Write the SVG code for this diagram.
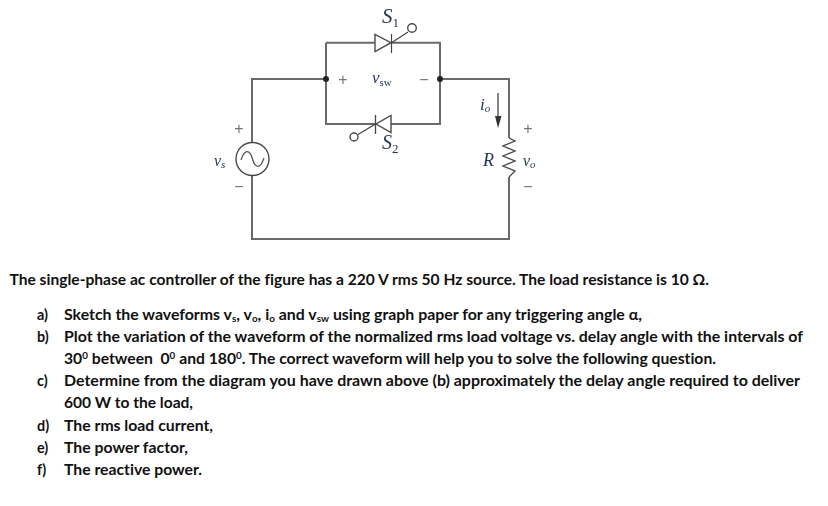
<svg xmlns="http://www.w3.org/2000/svg" width="828" height="506" viewBox="0 0 828 506">
<style>
.c{filter:url(#soft)}
.w{fill:none;stroke:#6a6a6a;stroke-width:2}
.s{fill:#fff;stroke:#4a4a4a;stroke-width:1.4}
.l{font-family:"Liberation Serif",serif;font-style:italic;fill:#26365c}
.n{font-style:normal}
.p{font-family:"Liberation Sans",sans-serif;font-size:16px;fill:#777;text-anchor:middle}
.t{font-family:Lato,"Liberation Sans",sans-serif;font-weight:700;font-size:14.4px;fill:#111;font-variant-ligatures:none;white-space:pre}
.d{fill:#222}
</style>
<defs>
<filter id="soft" x="-10%" y="-10%" width="120%" height="120%"><feGaussianBlur stdDeviation="0.35"/></filter>
</defs>
<rect width="828" height="506" fill="#fff"/>
<g id="connectors" class="c">
<path class="w" d="M326 79H252V142M252 176V239H509V177M509 138V79H440M326 42.7V124H375M391 124H440V42.7H391M375 42.7H326"/>
<path d="M498 93V118" stroke="#444" stroke-width="1.3" fill="none"/>
<path d="M495 116H501.5L498 128Z" fill="#333"/>
</g>
<g id="source" class="c">
<circle class="s" cx="252.5" cy="159" r="16.5" stroke-width="1.7"/>
<path d="M241 160C245 148 250 150 252.5 159S260 170 264 158" fill="none" stroke="#555" stroke-width="1.3"/>
<text class="p" x="239" y="134">+</text><text class="p" x="239" y="192">−</text>
<text class="l" x="214" y="166" font-size="16">v<tspan font-size="11" dy="2">s</tspan></text>
</g>
<g id="s1" class="c">
<path class="s" d="M375 34.5V51.5L391 42.7Z"/>
<path d="M391.5 34V53M391.5 42.7L408 32" stroke="#444" stroke-width="1.2" fill="none"/>
<circle class="s" cx="412" cy="28" r="4.3"/>
<text class="l" x="382" y="23" font-size="21">S<tspan class="n" font-size="13" dy="4">1</tspan></text>
</g>
<g id="s2" class="c">
<path class="s" d="M391 115.5V132.5L376 124Z"/>
<path d="M375.5 115V134M375.5 124L358 134.5" stroke="#444" stroke-width="1.3" fill="none"/>
<circle class="s" cx="354" cy="137" r="4"/>
<text class="l" x="382" y="149" font-size="20">S<tspan class="n" font-size="13" dy="4">2</tspan></text>
</g>
<g id="vsw" class="c">
<circle class="d" cx="326" cy="79" r="3"/><circle class="d" cx="440" cy="79" r="3"/>
<text class="p" x="343" y="85">+</text><text class="p" x="424" y="85">−</text>
<text class="l" x="372" y="83" font-size="17">v<tspan class="n" font-size="11" dy="3">sw</tspan></text>
</g>
<g id="load" class="c">
<path fill="none" stroke="#444" stroke-width="1.3" d="M509 138L515 141L503 146L515 151L503 156L515 161L503 166L515 171L509 177"/>
<text class="l" x="483" y="166" font-size="18">R</text>
<text class="l" x="480" y="110" font-size="17">i<tspan font-size="11" dy="2">o</tspan></text>
<text class="p" x="528" y="134">+</text><text class="p" x="528" y="192">−</text>
<text class="l" x="523" y="166" font-size="16">v<tspan font-size="11" dy="2">o</tspan></text>
</g>
<g id="question">
<text class="t" x="9.5" y="285" textLength="699.5" lengthAdjust="spacingAndGlyphs">The single-phase ac controller of the figure has a 220 V rms 50 Hz source. The load resistance is 10 Ω.</text>
<text class="t" x="37" y="320">a)</text>
<text class="t" x="64" y="320" textLength="578" lengthAdjust="spacingAndGlyphs">Sketch the waveforms v<tspan font-size="9" dy="2">s</tspan><tspan dy="-2">, v</tspan><tspan font-size="9" dy="2">o</tspan><tspan dy="-2">, i</tspan><tspan font-size="9" dy="2">o</tspan><tspan dy="-2"> and v</tspan><tspan font-size="9" dy="2">sw</tspan><tspan dy="-2"> using graph paper for any triggering angle α,</tspan></text>
<text class="t" x="37" y="342">b)</text>
<text class="t" x="64" y="342" textLength="739" lengthAdjust="spacingAndGlyphs">Plot the variation of the waveform of the normalized rms load voltage vs. delay angle with the intervals of</text>
<text class="t" x="64" y="364" textLength="652" lengthAdjust="spacingAndGlyphs">30<tspan font-size="9" dy="-5">0</tspan><tspan dy="5"> between  0</tspan><tspan font-size="9" dy="-5">0</tspan><tspan dy="5"> and 180</tspan><tspan font-size="9" dy="-5">0</tspan><tspan dy="5">. The correct waveform will help you to solve the following question.</tspan></text>
<text class="t" x="37" y="386">c)</text>
<text class="t" x="64" y="386" textLength="736" lengthAdjust="spacingAndGlyphs">Determine from the diagram you have drawn above (b) approximately the delay angle required to deliver</text>
<text class="t" x="64" y="408" textLength="129" lengthAdjust="spacingAndGlyphs">600 W to the load,</text>
<text class="t" x="37" y="431">d)</text>
<text class="t" x="64" y="431" textLength="149" lengthAdjust="spacingAndGlyphs">The rms load current,</text>
<text class="t" x="37" y="453">e)</text>
<text class="t" x="64" y="453" textLength="124" lengthAdjust="spacingAndGlyphs">The power factor,</text>
<text class="t" x="37" y="475">f)</text>
<text class="t" x="64" y="475" textLength="138" lengthAdjust="spacingAndGlyphs">The reactive power.</text>
</g>
</svg>
